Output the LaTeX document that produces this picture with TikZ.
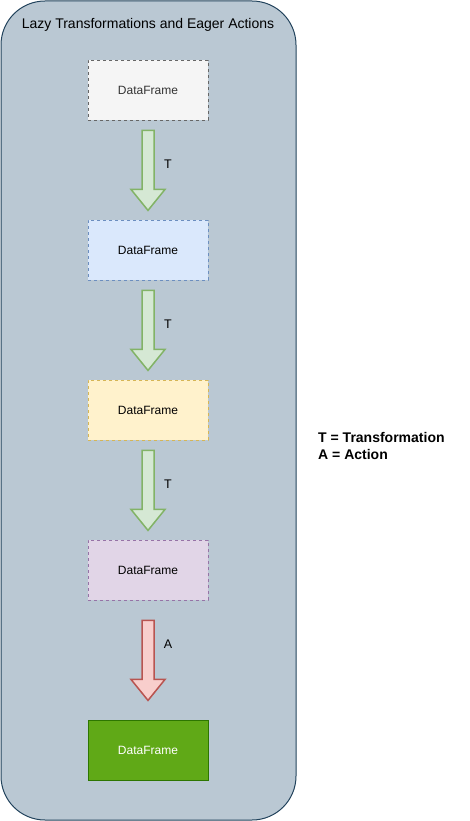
\documentclass[tikz,border=0pt]{standalone}
\usepackage{fontspec}
\setmainfont{Liberation Sans}
\usetikzlibrary{calc}
\definecolor{contfill}{HTML}{BAC8D3}
\definecolor{contdraw}{HTML}{23445D}
\definecolor{grayfill}{HTML}{F5F5F5}
\definecolor{graydraw}{HTML}{666666}
\definecolor{graytext}{HTML}{333333}
\definecolor{bluefill}{HTML}{DAE8FC}
\definecolor{bluedraw}{HTML}{6C8EBF}
\definecolor{yelfill}{HTML}{FFF2CC}
\definecolor{yeldraw}{HTML}{D6B656}
\definecolor{purfill}{HTML}{E1D5E7}
\definecolor{purdraw}{HTML}{9673A6}
\definecolor{grnfill}{HTML}{60A917}
\definecolor{grndraw}{HTML}{2D7600}
\definecolor{tfill}{HTML}{D5E8D4}
\definecolor{tdraw}{HTML}{82B366}
\definecolor{afill}{HTML}{F8CECC}
\definecolor{adraw}{HTML}{B85450}
\tikzset{
  x=1pt,y=1pt,
  every node/.style={font=\fontsize{12}{14}\selectfont},
  dfbox/.style={rectangle,minimum width=120,minimum height=60,inner sep=0,line width=0.8pt,font=\fontsize{12}{14}\selectfont},
  dashbox/.style={dfbox,dash pattern=on 3pt off 3pt},
  tarrow/.style={fill=tfill,draw=tdraw,line width=1.5pt,line join=miter},
  aarrow/.style={fill=afill,draw=adraw,line width=1.5pt,line join=miter},
  lbl/.style={inner sep=0,anchor=center,font=\fontsize{12.5}{14}\selectfont},
}
\begin{document}
\begin{tikzpicture}
\useasboundingbox (0,0) rectangle (469,-821);
\node[draw=contdraw,fill=contfill,line width=1pt,rounded corners=44,minimum width=295,minimum height=819,inner sep=0] (cont) at (148.5,-410.5) {};
\node[lbl,font=\fontsize{14}{16}\selectfont] (title) at (148,-25) {Lazy Transformations and Eager Actions};
\node[dashbox,fill=grayfill,draw=graydraw,text=graytext] (b1) at (148,-90) {DataFrame};
\node[dashbox,fill=bluefill,draw=bluedraw] (b2) at (148,-250) {DataFrame};
\node[dashbox,fill=yelfill,draw=yeldraw] (b3) at (148,-410) {DataFrame};
\node[dashbox,fill=purfill,draw=purdraw] (b4) at (148,-570) {DataFrame};
\node[dfbox,fill=grnfill,draw=grndraw,text=white] (b5) at (148,-750) {DataFrame};
% block arrows
\foreach \s/\st in {b1/tarrow,b2/tarrow,b3/tarrow}{
  \draw[\st,shift={($(\s.south)+(0,-10)$)}] (-6,0) -- (6,0) -- (6,-59) -- (17,-59) -- (0,-80) -- (-17,-59) -- (-6,-59) -- cycle;
}
\draw[aarrow,shift={($(b4.south)+(0,-20)$)}] (-6,0) -- (6,0) -- (6,-59) -- (17,-59) -- (0,-80) -- (-17,-59) -- (-6,-59) -- cycle;
\node[lbl] (t1) at ($(b1.south)+(20,-44)$) {T};
\node[lbl] (t2) at ($(b2.south)+(20,-44)$) {T};
\node[lbl] (t3) at ($(b3.south)+(20,-44)$) {T};
\node[lbl] (a1) at ($(b4.south)+(20,-44)$) {A};
\node[anchor=west,align=left,inner sep=0,font=\fontsize{14}{17}\selectfont\bfseries] (legend) at (318,-445.5) {T = Transformation\\A = Action};
\end{tikzpicture}
\end{document}
